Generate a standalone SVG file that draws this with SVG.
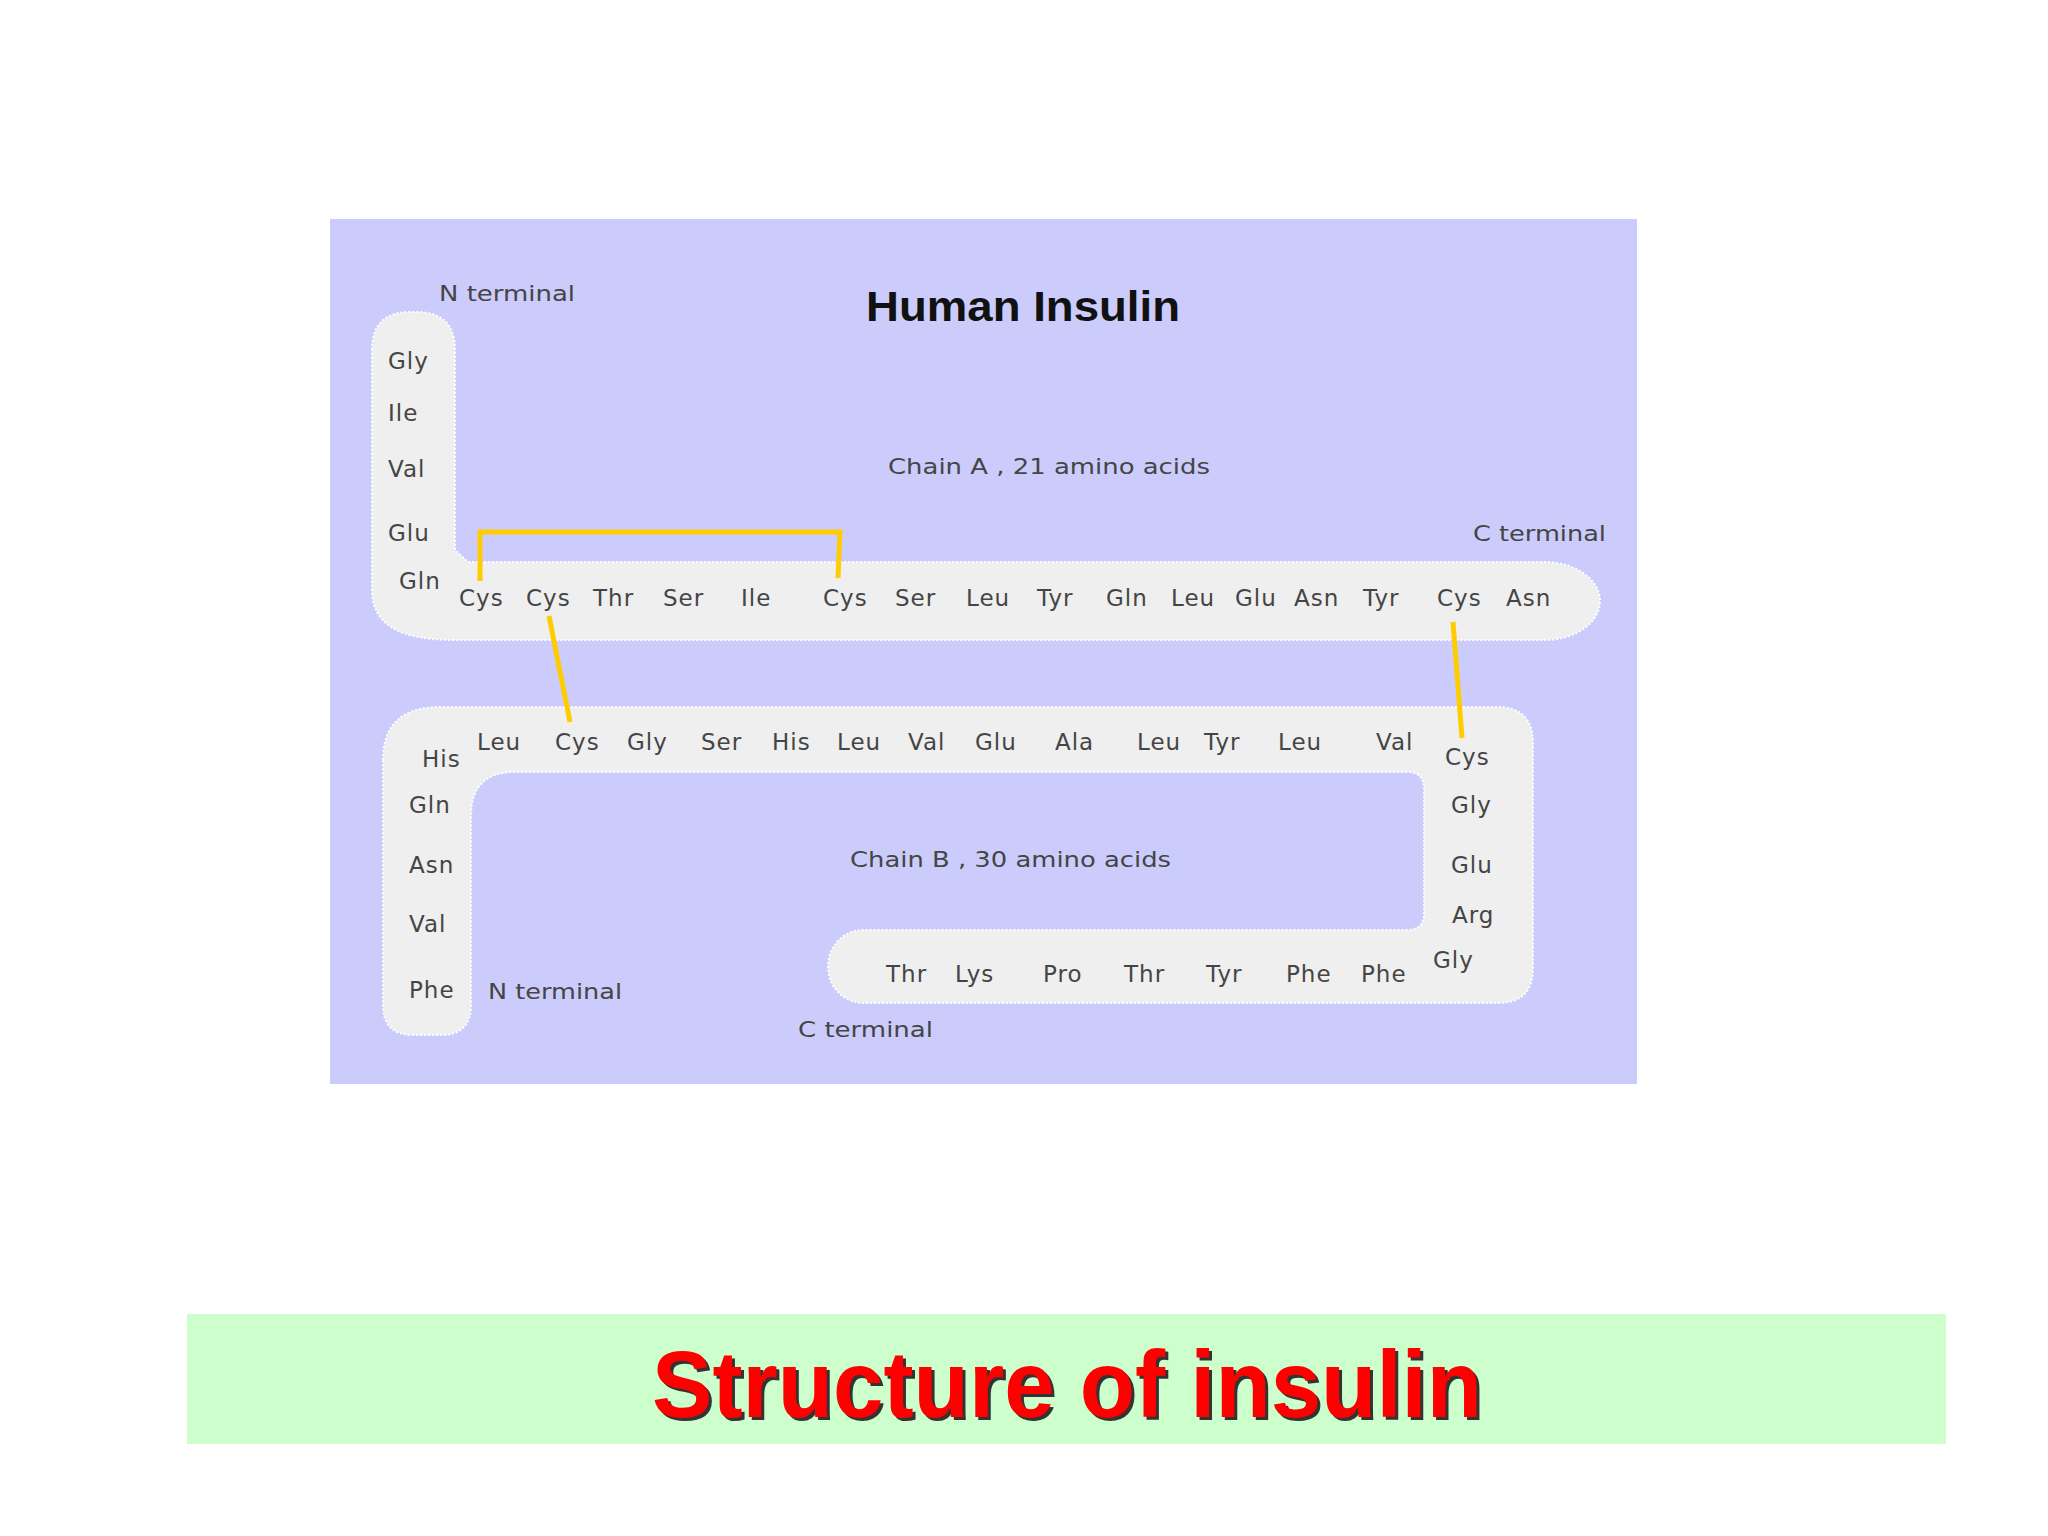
<svg xmlns="http://www.w3.org/2000/svg" width="2048" height="1536" viewBox="0 0 2048 1536">
<style>
.chain{fill:#efefef;stroke:#ffffff;stroke-width:2;stroke-dasharray:2 2}
.res{font-family:"DejaVu Sans",sans-serif;font-size:23px;fill:#454545;letter-spacing:1px}
.lbl{font-family:"DejaVu Sans",sans-serif;font-size:22px;fill:#454545}
.ss{fill:none;stroke:#ffcc00;stroke-width:5;stroke-linejoin:miter}
</style>
<rect width="2048" height="1536" fill="#ffffff"/>
<rect x="330" y="219" width="1307" height="865" fill="#ccccfc"/>
<text x="866" y="321" textLength="314" lengthAdjust="spacingAndGlyphs" style="font-family:'Liberation Sans',Arial,sans-serif;font-weight:bold;font-size:42px;fill:#111">Human Insulin</text>

<g id="chainA">
<path class="chain" d="M372,350 Q372,312 410,312 L417,312 Q455,312 455,350 L455,550 L468,562 L1545,562 A55,39 0 0 1 1545,640 L455,640 C400,640 372,625 372,590 Z"/>
<text class="lbl" x="439" y="301" textLength="136" lengthAdjust="spacingAndGlyphs">N terminal</text>
<text class="lbl" x="888" y="474" textLength="322" lengthAdjust="spacingAndGlyphs">Chain A ,  21 amino acids</text>
<text class="lbl" x="1473" y="541" textLength="133" lengthAdjust="spacingAndGlyphs">C terminal</text>
<g class="res">
<text x="388" y="369">Gly</text>
<text x="388" y="421">Ile</text>
<text x="388" y="477">Val</text>
<text x="388" y="541">Glu</text>
<text x="399" y="589">Gln</text>
<text x="459" y="606">Cys</text>
<text x="526" y="606">Cys</text>
<text x="593" y="606">Thr</text>
<text x="663" y="606">Ser</text>
<text x="741" y="606">Ile</text>
<text x="823" y="606">Cys</text>
<text x="895" y="606">Ser</text>
<text x="966" y="606">Leu</text>
<text x="1037" y="606">Tyr</text>
<text x="1106" y="606">Gln</text>
<text x="1171" y="606">Leu</text>
<text x="1235" y="606">Glu</text>
<text x="1294" y="606">Asn</text>
<text x="1363" y="606">Tyr</text>
<text x="1437" y="606">Cys</text>
<text x="1506" y="606">Asn</text>
</g>
</g>

<g id="chainB">
<path class="chain" d="M383,760 Q383,707 440,707 L1497,707 Q1533,707 1533,743 L1533,968 Q1533,1003 1498,1003 L863,1003 A35,36.5 0 0 1 863,930 L1407,930 Q1424,930 1424,913 L1424,789 Q1424,772 1407,772 L515,772 Q471,772 471,816 L471,1005 Q471,1035 441,1035 L413,1035 Q383,1035 383,1005 Z"/>
<text class="lbl" x="850" y="867" textLength="321" lengthAdjust="spacingAndGlyphs">Chain B ,  30 amino acids</text>
<text class="lbl" x="488" y="999" textLength="134" lengthAdjust="spacingAndGlyphs">N terminal</text>
<text class="lbl" x="798" y="1037" textLength="135" lengthAdjust="spacingAndGlyphs">C terminal</text>
<g class="res">
<text x="422" y="767">His</text>
<text x="477" y="750">Leu</text>
<text x="555" y="750">Cys</text>
<text x="627" y="750">Gly</text>
<text x="701" y="750">Ser</text>
<text x="772" y="750">His</text>
<text x="837" y="750">Leu</text>
<text x="908" y="750">Val</text>
<text x="975" y="750">Glu</text>
<text x="1055" y="750">Ala</text>
<text x="1137" y="750">Leu</text>
<text x="1204" y="750">Tyr</text>
<text x="1278" y="750">Leu</text>
<text x="1376" y="750">Val</text>
<text x="1445" y="765">Cys</text>
<text x="1451" y="813">Gly</text>
<text x="1451" y="873">Glu</text>
<text x="1452" y="923">Arg</text>
<text x="1433" y="968">Gly</text>
<text x="409" y="813">Gln</text>
<text x="409" y="873">Asn</text>
<text x="409" y="932">Val</text>
<text x="409" y="998">Phe</text>
<text x="886" y="982">Thr</text>
<text x="955" y="982">Lys</text>
<text x="1043" y="982">Pro</text>
<text x="1124" y="982">Thr</text>
<text x="1206" y="982">Tyr</text>
<text x="1286" y="982">Phe</text>
<text x="1361" y="982">Phe</text>
</g>
</g>

<g id="connectors">
<path class="ss" d="M480,581 L480,532 L840,532 L838,578"/>
<line class="ss" x1="549" y1="616" x2="570" y2="722"/>
<line class="ss" x1="1453" y1="622" x2="1462" y2="738"/>
</g>

<g id="banner">
<rect x="187" y="1314" width="1759" height="130" fill="#ccffcc"/>
<text x="655" y="1420" textLength="830" lengthAdjust="spacingAndGlyphs" style="font-family:'Liberation Sans',Arial,sans-serif;font-weight:bold;font-size:94px;fill:#333">Structure of insulin</text>
<text x="652" y="1417" textLength="830" lengthAdjust="spacingAndGlyphs" style="font-family:'Liberation Sans',Arial,sans-serif;font-weight:bold;font-size:94px;fill:#ff0000">Structure of insulin</text>
</g>
</svg>
